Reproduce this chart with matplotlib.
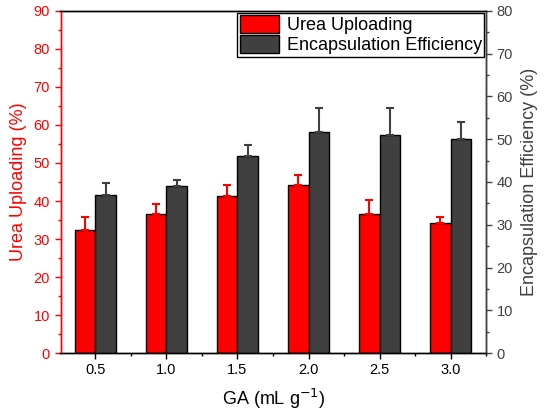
import numpy as np
import matplotlib
matplotlib.use('Agg')
import matplotlib.pyplot as plt
from matplotlib.ticker import MultipleLocator

plt.rcParams['font.family'] = ['Liberation Sans', 'DejaVu Sans']

# data
ga = [0.5, 1.0, 1.5, 2.0, 2.5, 3.0]
ga_labels = ['0.5', '1.0', '1.5', '2.0', '2.5', '3.0']
urea = [32.5, 36.7, 41.4, 44.1, 36.5, 34.1]
urea_err = [3.4, 2.5, 2.8, 2.7, 3.8, 1.8]
encap = [37.0, 39.1, 46.1, 51.8, 51.0, 50.0]
encap_err = [2.8, 1.4, 2.6, 5.4, 6.2, 4.0]

red = '#ff0000'
dark = '#404040'
w = 0.146

fig = plt.figure(figsize=(5.5, 4.16), dpi=100)
ax = fig.add_axes([0.110, 0.1514, 0.774, 0.8222])
ax2 = ax.twinx()

x = np.array(ga)
ax.bar(x - w / 2, urea, width=w, color=red, edgecolor='black', linewidth=1.0,
       label='Urea Uploading', zorder=2)
ax.errorbar(x - w / 2, urea, yerr=[np.zeros(len(urea)), urea_err], fmt='none',
            ecolor=red, elinewidth=1.5, capsize=3, capthick=1.5, zorder=3)
ax2.bar(x + w / 2, encap, width=w, color=dark, edgecolor='black', linewidth=1.0,
        label='Encapsulation Efficiency', zorder=2)
ax2.errorbar(x + w / 2, encap, yerr=[np.zeros(len(encap)), encap_err], fmt='none',
             ecolor=dark, elinewidth=1.5, capsize=3, capthick=1.5, zorder=3)

ax.set_xlim(0.255, 3.25)
ax.set_ylim(0, 90)
ax2.set_ylim(0, 80)
ax.set_xticks(ga)
ax.set_xticklabels(ga_labels)
ax.xaxis.set_minor_locator(MultipleLocator(0.25))
ax.yaxis.set_major_locator(MultipleLocator(10))
ax.yaxis.set_minor_locator(MultipleLocator(5))
ax2.yaxis.set_major_locator(MultipleLocator(10))
ax2.yaxis.set_minor_locator(MultipleLocator(5))

ax.tick_params(axis='both', which='major', direction='out', length=4, width=1, labelsize=10.5)
ax.tick_params(axis='both', which='minor', direction='out', length=2, width=1)
ax.tick_params(axis='y', which='both', colors=red)
ax2.tick_params(axis='y', which='major', direction='out', length=4, width=1,
                colors=dark, labelsize=10.5)
ax2.tick_params(axis='y', which='minor', direction='out', length=2, width=1, colors=dark)

ax.spines['left'].set_color(red)
ax2.spines['left'].set_color(red)
ax2.spines['right'].set_color(dark)
ax.spines['top'].set_color('black')
for s in ['left', 'right', 'top', 'bottom']:
    ax.spines[s].set_linewidth(1.0)
    ax2.spines[s].set_linewidth(1.0)

ax.set_xlabel('GA (mL g$^{-1}$)', fontsize=13, labelpad=7)
ax.set_ylabel('Urea Uploading (%)', fontsize=13, color=red, labelpad=5)
ax2.set_ylabel('Encapsulation Efficiency (%)', fontsize=13, color=dark, labelpad=6)

h1, l1 = ax.get_legend_handles_labels()
h2, l2 = ax2.get_legend_handles_labels()
leg = ax2.legend(h1 + h2, l1 + l2, loc='upper right', fontsize=13, frameon=True,
                 fancybox=False, framealpha=1, edgecolor='black',
                 borderpad=0.15, labelspacing=0.05, handlelength=2.2, handleheight=1.1,
                 handletextpad=0.4, borderaxespad=0.1)
leg.get_frame().set_linewidth(1.0)

fig.savefig('out.png', dpi=100)
